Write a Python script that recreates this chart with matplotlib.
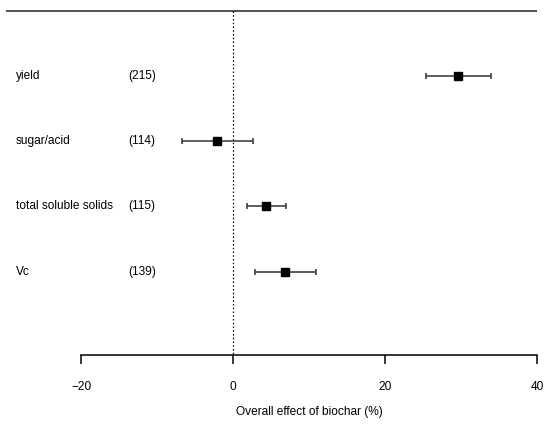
import matplotlib
matplotlib.use('Agg')
import matplotlib.pyplot as plt
import numpy as np

# Forest plot data (overall effect of biochar, %)
outcomes = ['yield', 'sugar/acid', 'total soluble solids', 'Vc']
counts = [215, 114, 115, 139]
effect = [29.6, -2.2, 4.3, 6.8]
ci_low = [25.4, -6.8, 1.8, 2.9]
ci_high = [33.9, 2.6, 7.0, 10.9]
xticks = [-20, 0, 20, 40]

plt.rcParams['font.family'] = ['Liberation Sans', 'DejaVu Sans']
FS = 8.6

W, H = 550, 428
fig = plt.figure(figsize=(W / 100, H / 100), dpi=100)
ax = fig.add_axes([0, 0, 1, 1])

# pixel geometry of the reference
px_per_unit = (537.3 - 81.7) / 60.0
x0_px = 233.3
row0_px, row_step = 75.7, 65.3

def px_to_x(px):
    return (px - x0_px) / px_per_unit

def py_to_y(py):
    return (py - row0_px) / row_step

ax.set_xlim(px_to_x(0), px_to_x(W))
ax.set_ylim(py_to_y(H), py_to_y(0))

rows = np.arange(len(outcomes))
eff = np.array(effect)
lo = np.array(ci_low)
hi = np.array(ci_high)

ax.errorbar(eff, rows, xerr=[eff - lo, hi - eff], fmt='none',
            ecolor='#333333', elinewidth=1.1, capsize=2.5, capthick=1.1, zorder=2)
ax.plot(eff, rows, 's', color='black', markersize=5.2, zorder=3)

# text columns
for i, (name, n) in enumerate(zip(outcomes, counts)):
    ax.text(15.5 / W, i, name, transform=ax.get_yaxis_transform(),
            ha='left', va='center', fontsize=FS)
    ax.text(128.5 / W, i, f'({n})', transform=ax.get_yaxis_transform(),
            ha='left', va='center', fontsize=FS)

top_y = py_to_y(11)
axis_y = py_to_y(355)

ax.hlines(top_y, px_to_x(6), 40, color='#222222', linewidth=1.1)
ax.vlines(0, top_y, axis_y, color='black', linewidth=0.9,
          linestyles=(0, (1.2, 1.8)))

# bottom axis
for s in ['top', 'right', 'left']:
    ax.spines[s].set_visible(False)
ax.spines['bottom'].set_position(('data', axis_y))
ax.spines['bottom'].set_bounds(-20, 40)
ax.spines['bottom'].set_linewidth(1.1)
ax.set_xticks(xticks)
ax.set_xticklabels([f'\u2212{abs(t)}' if t < 0 else str(t) for t in xticks])
ax.tick_params(axis='x', direction='out', length=6.5, width=1.1,
               pad=12.0, labelsize=FS)
ax.set_yticks([])

ax.text(10, py_to_y(411.5), 'Overall effect of biochar (%)',
        ha='center', va='center', fontsize=FS)

fig.savefig('out.png', dpi=100)
